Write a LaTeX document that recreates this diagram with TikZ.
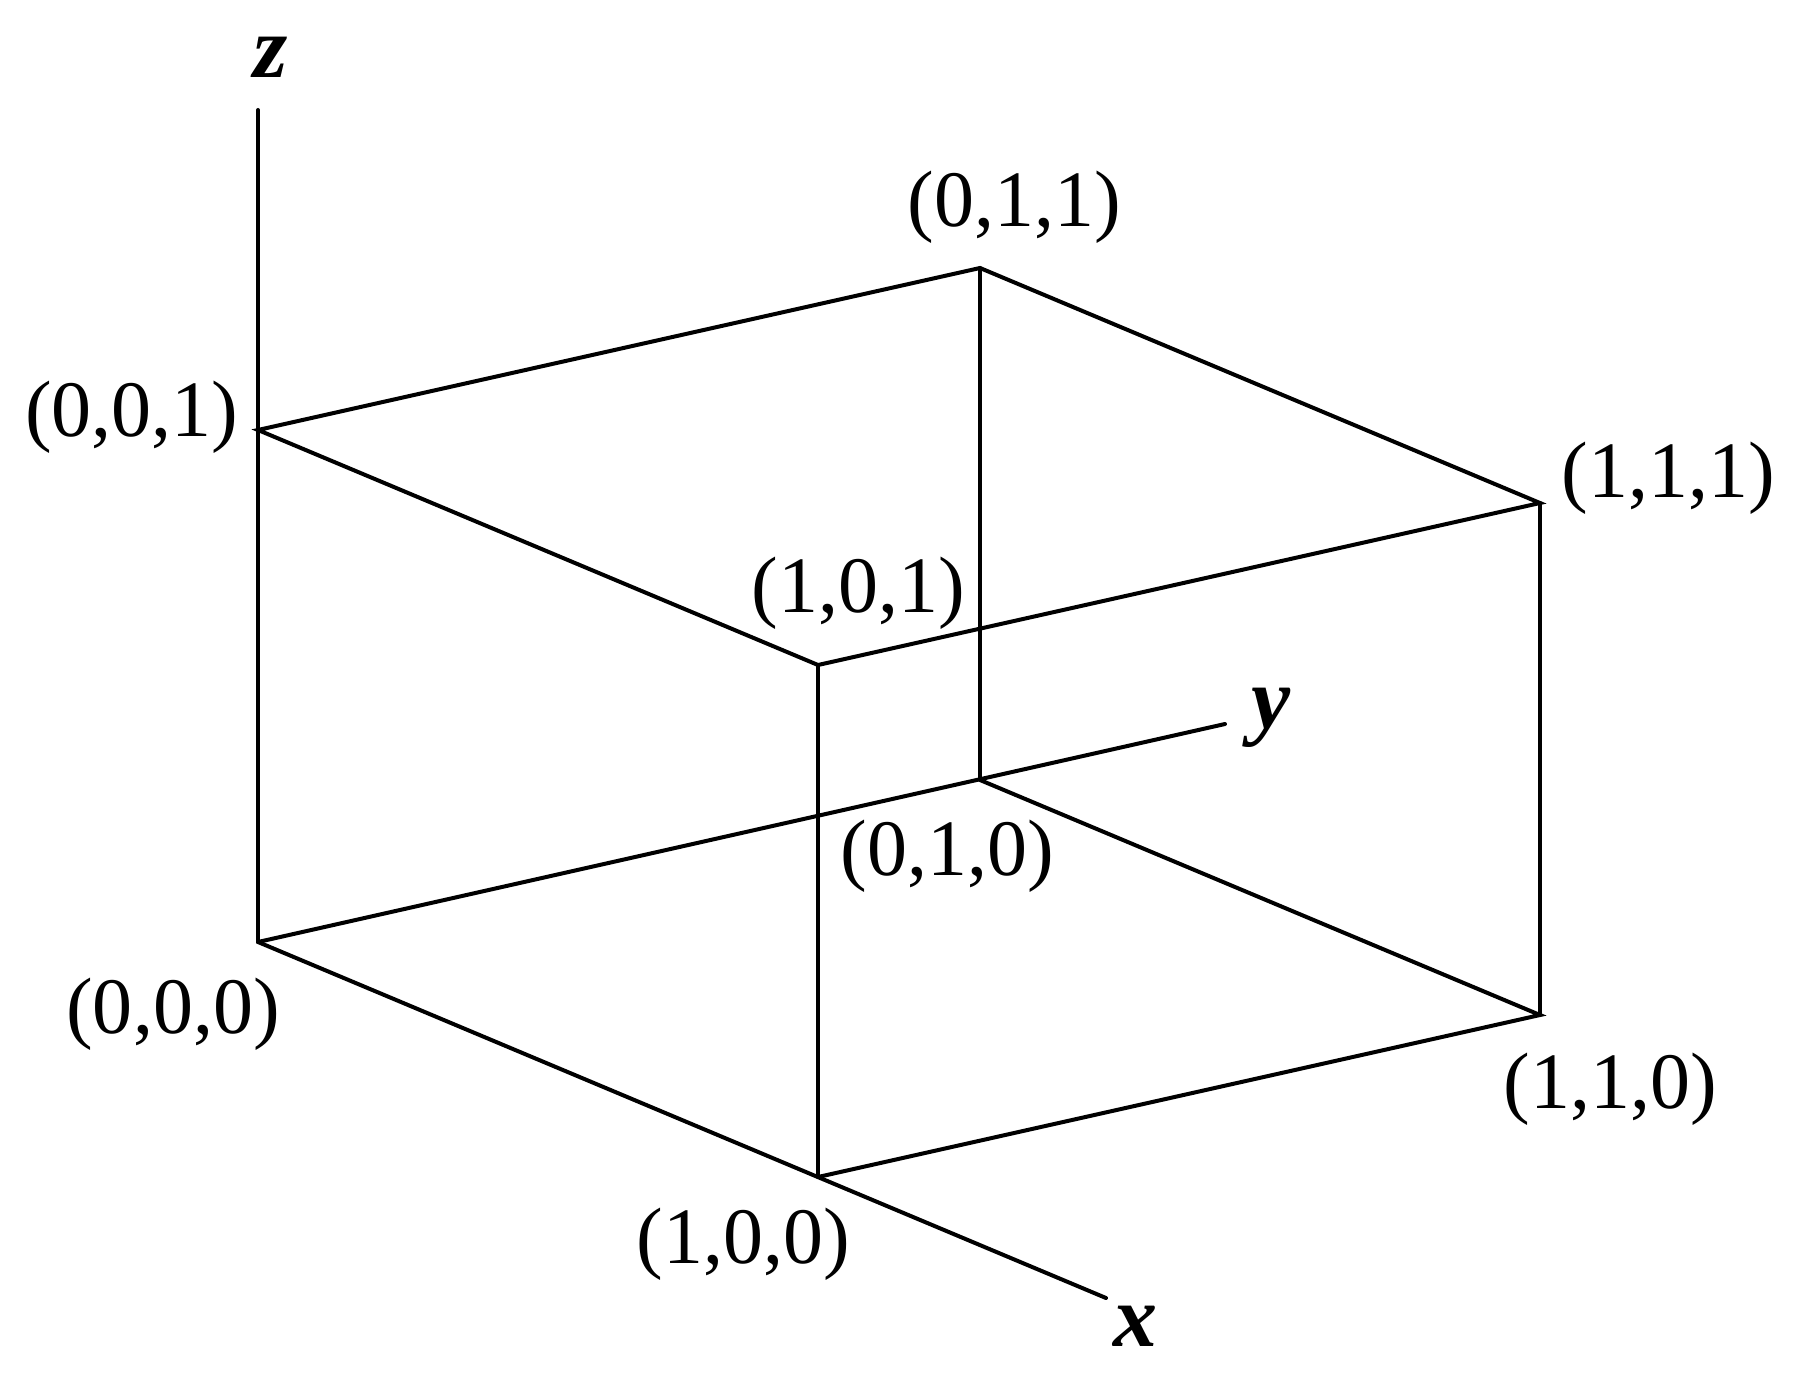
\documentclass[tikz,border=0pt]{standalone}
\usepackage{fontspec}
\setmainfont{Liberation Serif}
\begin{document}
\begin{tikzpicture}[x=0.5pt,y=-0.5pt,
  edge/.style={line width=2pt, line cap=round},
  lbl/.style={inner sep=0pt, font=\fontsize{40}{46}\selectfont},
  axl/.style={inner sep=0pt, font=\fontsize{44}{50}\selectfont\bfseries\itshape}]
\useasboundingbox (0,0) rectangle (1804,1375);
\coordinate (O) at (258,942);
\coordinate (ZT) at (258,110);
\coordinate (A001) at (258,430);
\coordinate (A100) at (818,1177);
\coordinate (XE) at (1106,1298);
\coordinate (A010) at (980,780);
\coordinate (YE) at (1225,724);
\coordinate (A110) at (1540,1015);
\coordinate (A101) at (818,665);
\coordinate (A011) at (980,268);
\coordinate (A111) at (1540,503);
% axes
\draw[edge] (O) -- (ZT);
\draw[edge] (O) -- (XE);
\draw[edge] (O) -- (YE);
% cube
\draw[edge] (A001) -- (A101) -- (A111) -- (A011) -- cycle;
\draw[edge] (A100) -- (A110) -- (A010);
\draw[edge] (A101) -- (A100);
\draw[edge] (A111) -- (A110);
\draw[edge] (A011) -- (A010);
% labels
\node[axl] (lz) at (271,57) {z};
\node[axl] (ly) at (1271,718) {y};
\node[axl] (lx) at (1135,1326) {x};
\node[lbl] (l011) at (1014,207) {(0,1,1)};
\node[lbl] (l001) at (132,417) {(0,0,1)};
\node[lbl] (l111) at (1668,478) {(1,1,1)};
\node[lbl] (l101) at (858,593) {(1,0,1)};
\node[lbl] (l010) at (947,856) {(0,1,0)};
\node[lbl] (l000) at (173,1014) {(0,0,0)};
\node[lbl] (l110) at (1610,1089) {(1,1,0)};
\node[lbl] (l100) at (743,1244) {(1,0,0)};
\end{tikzpicture}
\end{document}
